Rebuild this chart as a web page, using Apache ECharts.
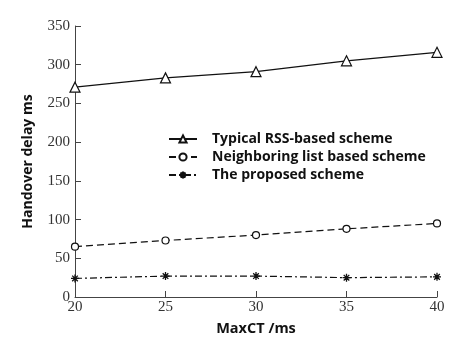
<!DOCTYPE html>
<html>
<head>
<meta charset="utf-8">
<script src="https://cdn.jsdelivr.net/npm/echarts@6/dist/echarts.min.js"></script>
<style>
  html, body { margin: 0; padding: 0; background: #fff; }
  #main { width: 474px; height: 351px; }
</style>
</head>
<body>
<div id="main"></div>
<script>
// x values (MaxCT, ms)
var maxCT = [20, 25, 30, 35, 40];
// handover delay (ms)
var typicalRSS = [271, 283, 291, 305, 316];
var neighborList = [65, 73, 80, 88, 95];
var proposed = [24, 27, 27, 25, 26];

function pairs(ys) {
  var out = [];
  for (var i = 0; i < maxCT.length; i++) {
    out.push([maxCT[i], ys[i]]);
  }
  return out;
}

var asterisk = 'path://M0,5L10,5M5,0L5,10M1.5,1.5L8.5,8.5M8.5,1.5L1.5,8.5';

var chart = echarts.init(document.getElementById('main'));
var option = {
  animation: false,
  backgroundColor: '#fff',
  grid: { left: 75, right: 37, top: 26, bottom: 54 },
  legend: {
    orient: 'vertical',
    left: 163,
    top: 127,
    itemGap: 4,
    itemWidth: 28,
    itemHeight: 9,
    textStyle: { fontFamily: 'Open Sans', fontWeight: 'bold', fontSize: 14, color: '#111', padding: [0, 0, 0, 10] },
    data: ['Typical RSS-based scheme', 'Neighboring list based scheme', 'The proposed scheme']
  },
  xAxis: {
    type: 'value',
    min: 20, max: 40, interval: 5,
    name: 'MaxCT /ms',
    nameLocation: 'middle',
    nameGap: 24,
    nameTextStyle: { fontFamily: 'Open Sans', fontWeight: 'bold', fontSize: 14.5, color: '#111' },
    axisLine: { lineStyle: { color: '#444', width: 1 } },
    axisTick: { inside: true, length: 6, lineStyle: { color: '#444' } },
    axisLabel: { fontFamily: 'Liberation Serif', fontSize: 15, color: '#333', margin: 3 },
    splitLine: { show: false }
  },
  yAxis: {
    type: 'value',
    min: 0, max: 350, interval: 50,
    name: 'Handover delay ms',
    nameLocation: 'middle',
    nameGap: 40,
    nameTextStyle: { fontFamily: 'Open Sans', fontWeight: 'bold', fontSize: 14, color: '#111' },
    axisLine: { show: true, lineStyle: { color: '#444', width: 1 } },
    axisTick: { show: true, inside: true, length: 6, lineStyle: { color: '#444' } },
    axisLabel: { fontFamily: 'Liberation Serif', fontSize: 15, color: '#333', margin: 5 },
    splitLine: { show: false }
  },
  series: [
    {
      name: 'Typical RSS-based scheme',
      type: 'line',
      data: pairs(typicalRSS),
      symbol: 'triangle',
      symbolSize: 10,
      itemStyle: { color: '#fff', borderColor: '#111', borderWidth: 1.2 },
      lineStyle: { color: '#111', width: 1.3, type: 'solid' }
    },
    {
      name: 'Neighboring list based scheme',
      type: 'line',
      data: pairs(neighborList),
      symbol: 'circle',
      symbolSize: 7,
      itemStyle: { color: '#fff', borderColor: '#111', borderWidth: 1.2 },
      lineStyle: { color: '#111', width: 1.2, type: [7, 4] }
    },
    {
      name: 'The proposed scheme',
      type: 'line',
      data: pairs(proposed),
      symbol: asterisk,
      symbolSize: 8,
      itemStyle: { color: 'none', borderColor: '#111', borderWidth: 1.3 },
      lineStyle: { color: '#111', width: 1.2, type: [7, 3, 2, 3] }
    }
  ]
};
chart.setOption(option);
</script>
</body>
</html>
